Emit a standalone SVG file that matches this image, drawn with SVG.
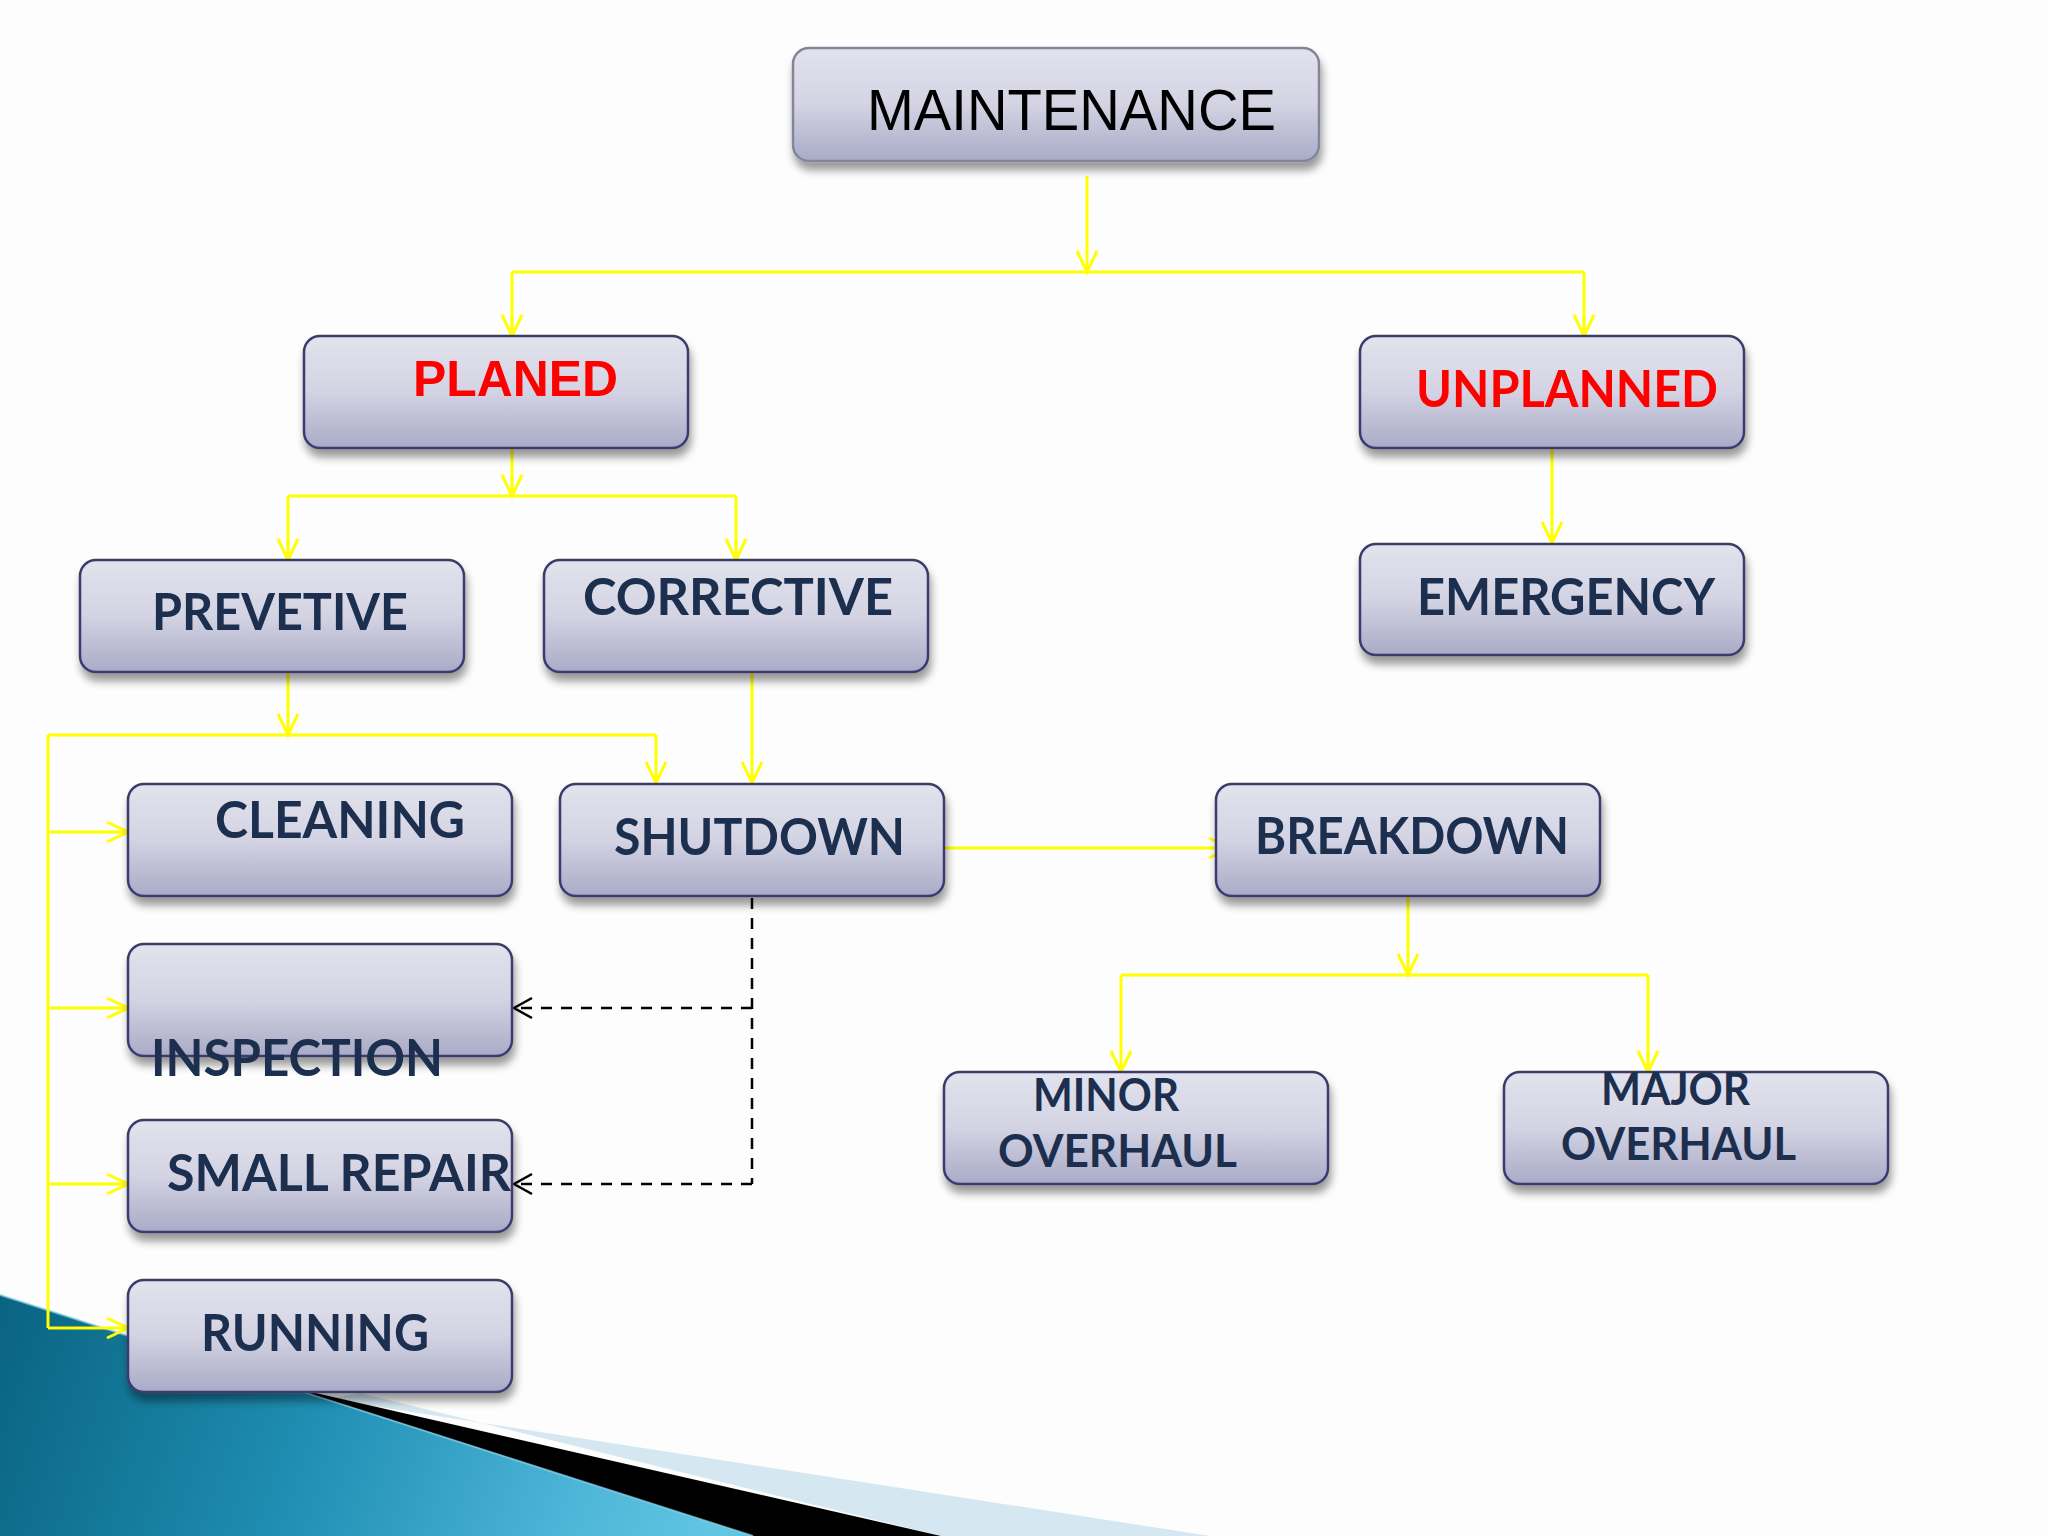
<svg xmlns="http://www.w3.org/2000/svg" width="2048" height="1536" viewBox="0 0 2048 1536">
<defs>
  <linearGradient id="boxg" x1="0" y1="0" x2="0" y2="1">
    <stop offset="0" stop-color="#e3e3ee"/>
    <stop offset="0.5" stop-color="#d3d3e3"/>
    <stop offset="1" stop-color="#a9aac6"/>
  </linearGradient>
  <linearGradient id="tealg" gradientUnits="userSpaceOnUse" x1="0" y1="1300" x2="720" y2="1536">
    <stop offset="0" stop-color="#0a6381"/>
    <stop offset="0.45" stop-color="#1f8fb3"/>
    <stop offset="0.8" stop-color="#4db5d7"/>
    <stop offset="1" stop-color="#62c6e3"/>
  </linearGradient>
  <filter id="shadow" x="-10%" y="-20%" width="120%" height="160%">
    <feGaussianBlur in="SourceAlpha" stdDeviation="4"/>
    <feOffset dx="2" dy="8" result="b"/>
    <feComponentTransfer><feFuncA type="linear" slope="0.4"/></feComponentTransfer>
    <feMerge><feMergeNode/><feMergeNode in="SourceGraphic"/></feMerge>
  </filter>
  <marker id="ya" markerUnits="userSpaceOnUse" markerWidth="30" markerHeight="30" refX="0" refY="0" viewBox="-25 -15 30 30" orient="auto" overflow="visible">
    <path d="M-21,-10 L0,0 L-21,10" fill="none" stroke="#ffff00" stroke-width="3"/>
  </marker>
  <marker id="ka" markerUnits="userSpaceOnUse" markerWidth="30" markerHeight="30" refX="0" refY="0" viewBox="-25 -15 30 30" orient="auto" overflow="visible">
    <path d="M-18,-10 L0,0 L-18,10" fill="none" stroke="#000" stroke-width="2.5"/>
  </marker>
  <style>
    .box { fill: url(#boxg); stroke: #3c3a6c; stroke-width: 2.5; filter: url(#shadow); }
    .boxm { fill: url(#boxg); stroke: #85859a; stroke-width: 2.5; filter: url(#shadow); }
    .t { font-family: Lato, "Open Sans", "DejaVu Sans", sans-serif; font-weight: 700; fill: #1c2f4f; font-size: 52px; }
    .ts { font-family: Lato, "Open Sans", "DejaVu Sans", sans-serif; font-weight: 700; fill: #1c2f4f; font-size: 46px; }
    .red { fill: #ff0000; }
    .y { fill: none; stroke: #ffff00; stroke-width: 3; }
    .ya { fill: none; stroke: #ffff00; stroke-width: 3; marker-end: url(#ya); }
    .d { fill: none; stroke: #000; stroke-width: 2.5; stroke-dasharray: 11 9; }
    .da { fill: none; stroke: #000; stroke-width: 2.5; stroke-dasharray: 11 9; marker-end: url(#ka); }
  </style>
</defs>

<rect x="0" y="0" width="2048" height="1536" fill="#fdfdfd"/>

<g id="background">
  <polygon points="328,1399 1210,1536 941,1536 360,1393" fill="#d5e7f0"/>
  <polygon points="285,1386 941,1536 753,1536" fill="#000"/>
  <polygon points="0,1295 753,1536 0,1536" fill="url(#tealg)"/>
  <line x1="0" y1="1295" x2="753" y2="1536" stroke="#7fcde6" stroke-width="2" opacity="0.7"/>
</g>

<g id="connectors">
  <path class="ya" d="M1087,176 V272"/>
  <path class="y" d="M512,272 H1584"/>
  <path class="ya" d="M512,272 V336"/>
  <path class="ya" d="M1584,272 V336"/>

  <path class="ya" d="M512,448 V496"/>
  <path class="y" d="M288,496 H736"/>
  <path class="ya" d="M288,496 V560"/>
  <path class="ya" d="M736,496 V560"/>

  <path class="ya" d="M1552,448 V543"/>

  <path class="ya" d="M288,672 V735"/>
  <path class="y" d="M48,735 H656"/>
  <path class="ya" d="M656,735 V783"/>
  <path class="y" d="M48,735 V1328"/>
  <path class="ya" d="M48,832 H128"/>
  <path class="ya" d="M48,1008 H128"/>
  <path class="ya" d="M48,1184 H128"/>
  <path class="ya" d="M48,1328 H128"/>

  <path class="ya" d="M752,672 V783"/>
  <path class="ya" d="M944,848 H1230"/>

  <path class="ya" d="M1408,896 V975"/>
  <path class="y" d="M1121,975 H1648"/>
  <path class="ya" d="M1121,975 V1072"/>
  <path class="ya" d="M1648,975 V1072"/>

  <path class="d" d="M752,898 V1184"/>
  <path class="da" d="M752,1008 H514"/>
  <path class="da" d="M752,1184 H514"/>
</g>

<g id="maintenance">
  <rect class="boxm" x="793" y="48" width="526" height="113" rx="16"/>
  <text x="867" y="130" font-family="Liberation Sans, Arial, sans-serif" font-size="58" fill="#000" textLength="409" lengthAdjust="spacingAndGlyphs">MAINTENANCE</text>
</g>

<g id="planed">
  <rect class="box" x="304" y="336" width="384" height="112" rx="16"/>
  <text x="413" y="396" font-family="Liberation Sans, Arial, sans-serif" font-weight="700" font-size="50" fill="#ff0000" textLength="205" lengthAdjust="spacingAndGlyphs">PLANED</text>
</g>

<g id="unplanned">
  <rect class="box" x="1360" y="336" width="384" height="112" rx="16"/>
  <text class="t red" x="1416" y="407" font-size="54" textLength="302" lengthAdjust="spacingAndGlyphs">UNPLANNED</text>
</g>

<g id="emergency">
  <rect class="box" x="1360" y="544" width="384" height="111" rx="16"/>
  <text class="t" x="1417" y="615" textLength="298" lengthAdjust="spacingAndGlyphs">EMERGENCY</text>
</g>

<g id="prevetive">
  <rect class="box" x="80" y="560" width="384" height="112" rx="16"/>
  <text class="t" x="152" y="630" textLength="256" lengthAdjust="spacingAndGlyphs">PREVETIVE</text>
</g>

<g id="corrective">
  <rect class="box" x="544" y="560" width="384" height="112" rx="16"/>
  <text class="t" x="583" y="615" textLength="310" lengthAdjust="spacingAndGlyphs">CORRECTIVE</text>
</g>

<g id="cleaning">
  <rect class="box" x="128" y="784" width="384" height="112" rx="16"/>
  <text class="t" x="215" y="838" textLength="250" lengthAdjust="spacingAndGlyphs">CLEANING</text>
</g>

<g id="shutdown">
  <rect class="box" x="560" y="784" width="384" height="112" rx="16"/>
  <text class="t" x="614" y="855" textLength="291" lengthAdjust="spacingAndGlyphs">SHUTDOWN</text>
</g>

<g id="breakdown">
  <rect class="box" x="1216" y="784" width="384" height="112" rx="16"/>
  <text class="t" x="1255" y="854" textLength="314" lengthAdjust="spacingAndGlyphs">BREAKDOWN</text>
</g>

<g id="inspection">
  <rect class="box" x="128" y="944" width="384" height="112" rx="16"/>
  <text class="t" x="151" y="1076" textLength="292" lengthAdjust="spacingAndGlyphs">INSPECTION</text>
</g>

<g id="small-repair">
  <rect class="box" x="128" y="1120" width="384" height="112" rx="16"/>
  <text class="t" x="167" y="1191" textLength="344" lengthAdjust="spacingAndGlyphs">SMALL REPAIR</text>
</g>

<g id="running">
  <rect class="box" x="128" y="1280" width="384" height="112" rx="16"/>
  <text class="t" x="201" y="1351" textLength="228" lengthAdjust="spacingAndGlyphs">RUNNING</text>
</g>

<g id="minor-overhaul">
  <rect class="box" x="944" y="1072" width="384" height="112" rx="16"/>
  <text class="ts" x="1033" y="1111" textLength="146" lengthAdjust="spacingAndGlyphs">MINOR</text>
  <text class="ts" x="998" y="1167" textLength="239" lengthAdjust="spacingAndGlyphs">OVERHAUL</text>
</g>

<g id="major-overhaul">
  <rect class="box" x="1504" y="1072" width="384" height="112" rx="16"/>
  <text class="ts" x="1601" y="1105" textLength="149" lengthAdjust="spacingAndGlyphs">MAJOR</text>
  <text class="ts" x="1561" y="1160" textLength="235" lengthAdjust="spacingAndGlyphs">OVERHAUL</text>
</g>
</svg>
